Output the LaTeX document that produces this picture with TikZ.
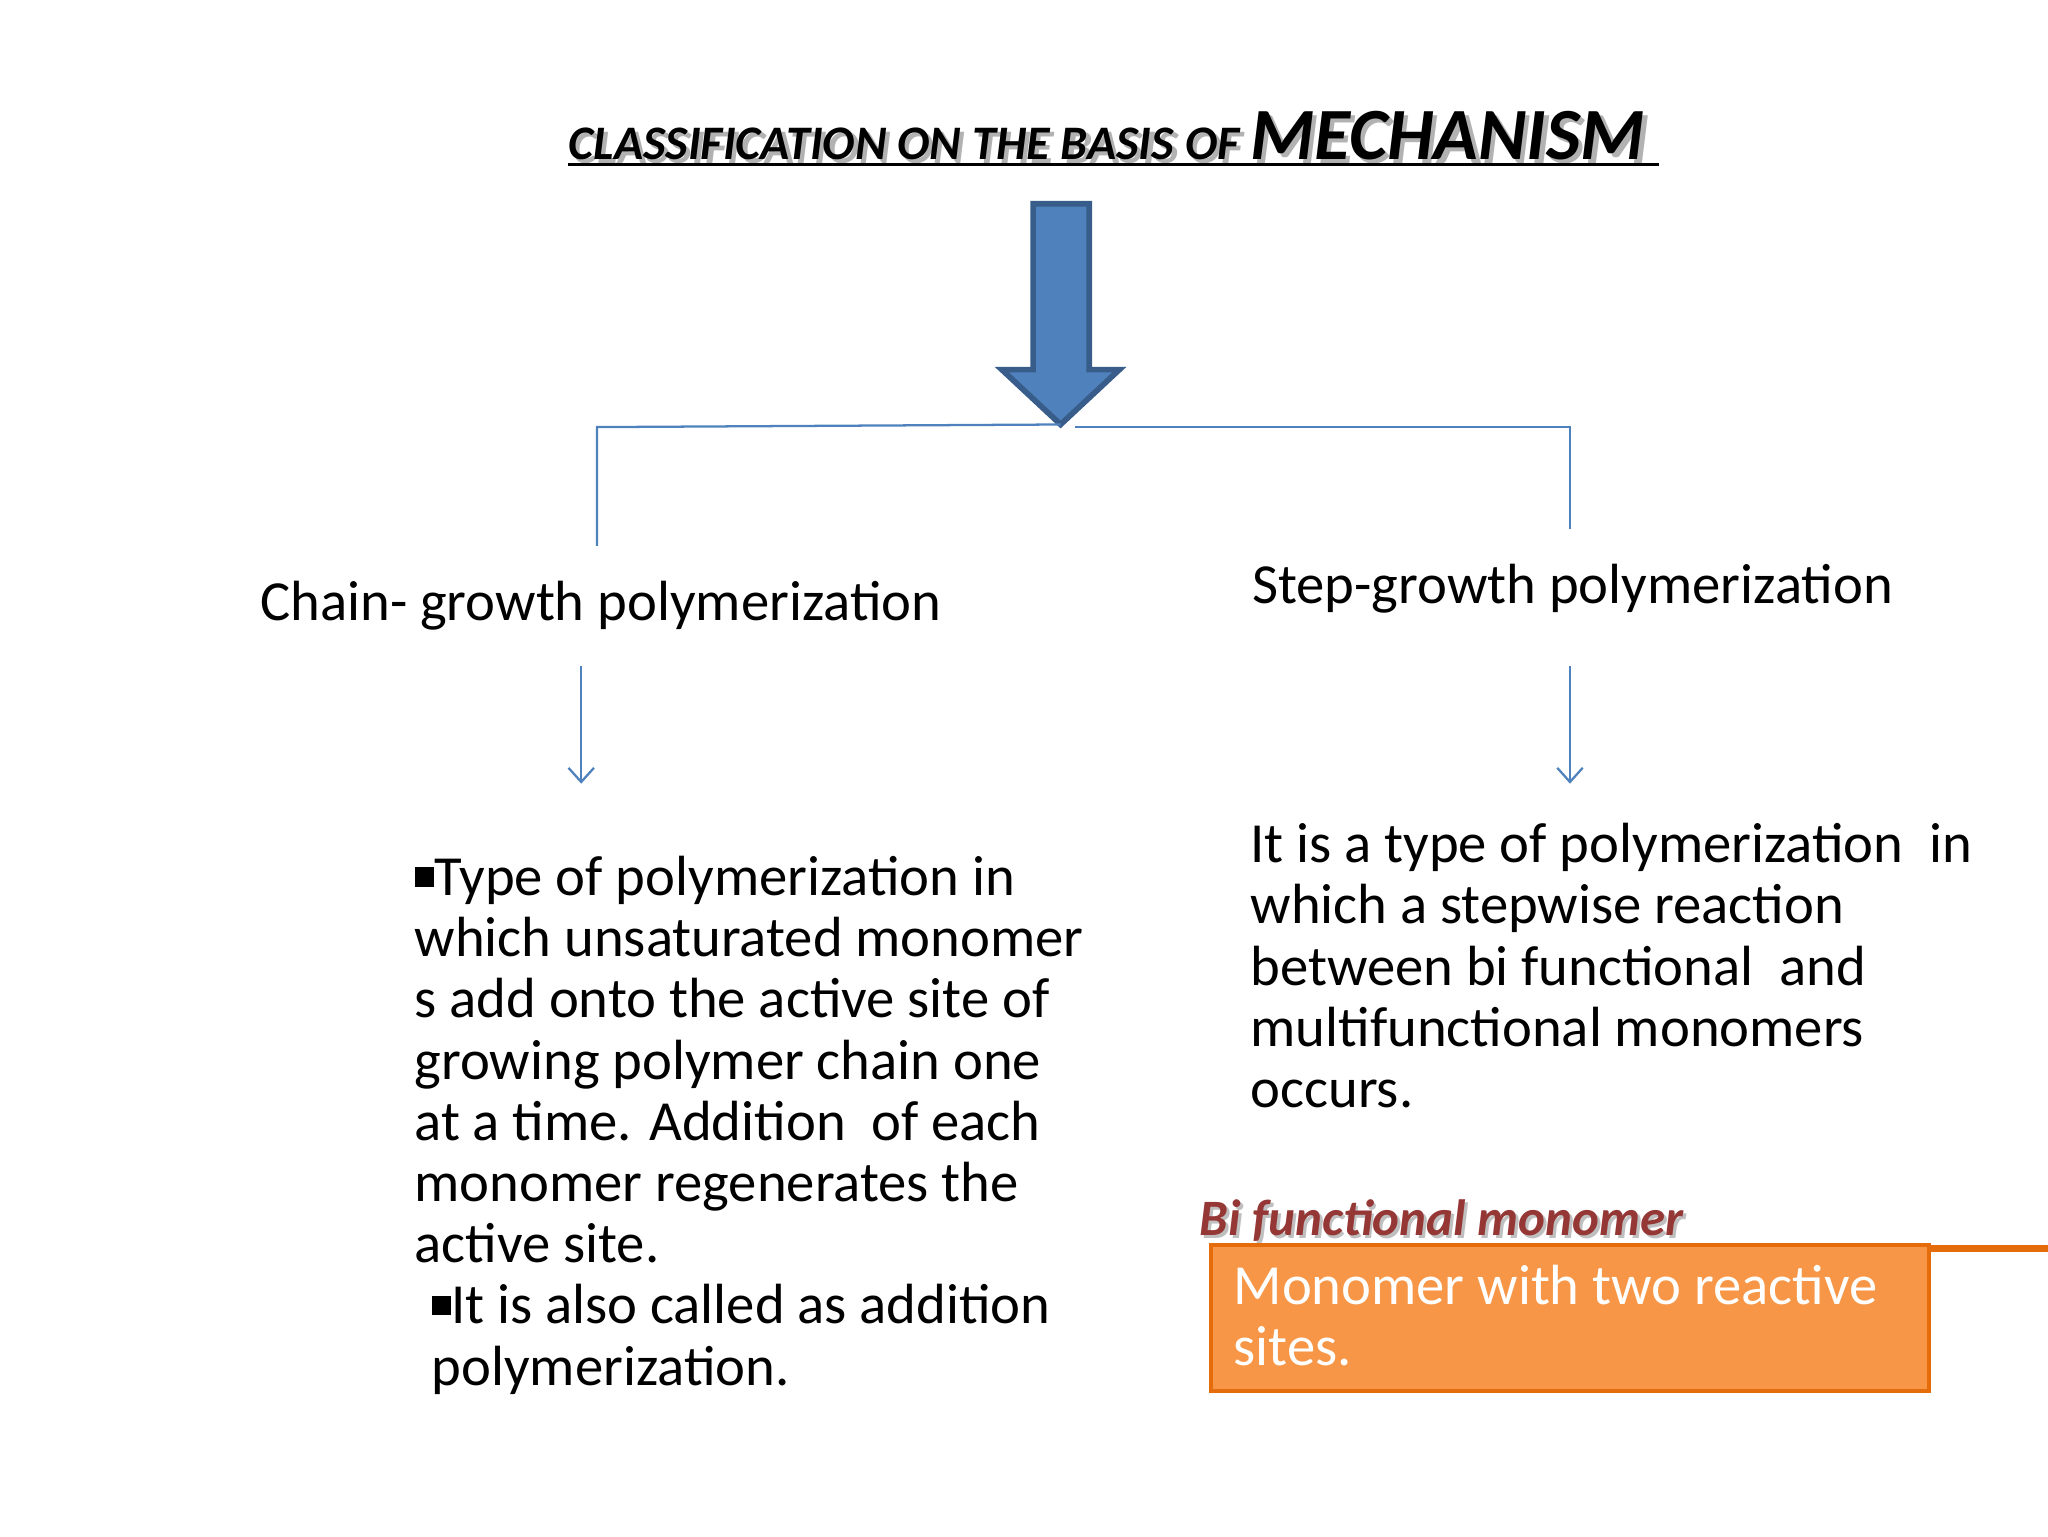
\documentclass[tikz,border=0pt]{standalone}
\usepackage{fontspec}
\setmainfont{Carlito}
\usetikzlibrary{arrows.meta}
\definecolor{lb}{RGB}{79,129,189}
\definecolor{db}{RGB}{56,93,138}
\definecolor{org}{RGB}{247,150,70}
\definecolor{orgd}{RGB}{228,108,10}
\definecolor{red1}{RGB}{149,55,53}
\tikzset{conn/.style={draw=lb,line width=0.8pt},
 body/.style={anchor=north west,align=left,font=\fontsize{20}{21.6}\selectfont,inner sep=0pt},
 head/.style={font=\fontsize{20}{24}\selectfont,inner sep=0pt}}
\begin{document}
\begin{tikzpicture}[x=0.0162cm,y=-0.0162cm]
\useasboundingbox (0,0) rectangle (1568,1176);
% title
\node[inner sep=0pt,anchor=base west,gray!60,xshift=1.5pt,yshift=-1.5pt] at (435,122) {\bfseries\itshape\fontsize{17}{20}\selectfont CLASSIFICATION ON THE BASIS OF \fontsize{26}{30}\selectfont MECHANISM};
\node[inner sep=0pt,anchor=base west] (title) at (435,122) {\bfseries\itshape\fontsize{17}{20}\selectfont CLASSIFICATION ON THE BASIS OF \fontsize{26}{30}\selectfont MECHANISM};
\draw[line width=1pt] (435,126) -- (1270,126);
% big arrow
\draw[fill=lb,draw=db,line width=2pt] (791,156) -- (834,156) -- (834,283) -- (857,283) -- (812,325) -- (767,283) -- (791,283) -- cycle;
\coordinate (tip) at (812,325);
% branches
\node[head,anchor=base] (chain) at (460,475) {Chain- growth polymerization};
\node[head,anchor=base] (step) at (1204,462) {Step-growth polymerization};
\draw[conn] (457,418) -- (457,327) -- (tip);
\draw[conn] (823,327) -- (1202,327) -- (1202,405);
\coordinate (c1) at (445,510); \coordinate (c2) at (445,600);
\coordinate (s1) at (1202,510); \coordinate (s2) at (1202,600);
\draw[conn,-{Straight Barb[length=5pt,width=9pt]}] (c1) -- (c2);
\draw[conn,-{Straight Barb[length=5pt,width=9pt]}] (s1) -- (s2);
% left text
\node[body] (lt) at (317,655) {\rule[3pt]{7pt}{7pt}Type of polymerization in\\which unsaturated monomer\\s add onto the active site of\\growing polymer chain one\\at a time. Addition\ \ of each\\monomer regenerates the\\active site.};
\node[body] (lt2) at (330,983) {\rule[3pt]{7pt}{7pt}It is also called as addition\\polymerization.};
% right text
\node[body] (rt) at (957,630) {It is a type of polymerization\ \ in\\which a stepwise reaction\\between bi functional\ \ and\\multifunctional monomers\\occurs.};
\node[inner sep=0pt,anchor=base west,gray!50,xshift=1pt,yshift=-1pt] at (918,946) {\itshape\bfseries\fontsize{18}{20}\selectfont Bi functional monomer};
\node[inner sep=0pt,anchor=base west,red1] (bf) at (918,946) {\itshape\bfseries\fontsize{18}{20}\selectfont Bi functional monomer};
\node[draw=orgd,fill=org,line width=1.5pt,minimum width=551\pgflinewidth,anchor=north west,inner sep=0pt] (box) at (927,953) {};
\fill[org] (927,953) rectangle (1477,1065);
\draw[orgd,line width=1.5pt] (927,953) rectangle (1477,1065);
\node[body,white] (bt) at (944,968) {Monomer with two reactive\\sites.};
\end{tikzpicture}
\end{document}
